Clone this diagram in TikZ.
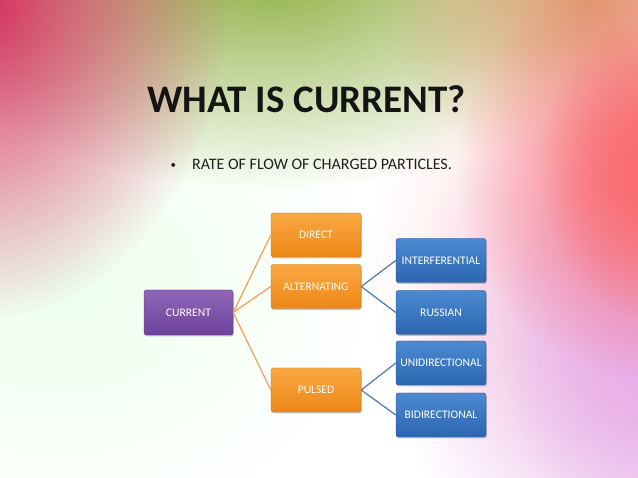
\documentclass[tikz,border=0pt]{standalone}
\usepackage{fontspec}
\setmainfont{Carlito}
\usetikzlibrary{shadows,fadings}

\newlength{\du}
\setlength{\du}{1pt}

\definecolor{purpletop}{rgb}{0.560000, 0.400000, 0.720000}
\definecolor{purplebot}{rgb}{0.430000, 0.260000, 0.600000}
\definecolor{orangetop}{rgb}{0.980000, 0.660000, 0.260000}
\definecolor{orangebot}{rgb}{0.930000, 0.530000, 0.090000}
\definecolor{bluetop}{rgb}{0.300000, 0.540000, 0.820000}
\definecolor{bluebot}{rgb}{0.170000, 0.400000, 0.690000}
\definecolor{orangeline}{rgb}{0.950000, 0.620000, 0.330000}
\definecolor{blueline}{rgb}{0.300000, 0.480000, 0.720000}
\definecolor{crimsonspot}{rgb}{0.830000, 0.160000, 0.350000}
\definecolor{greenspot}{rgb}{0.540000, 0.680000, 0.230000}
\definecolor{tanspot}{rgb}{0.870000, 0.600000, 0.420000}
\definecolor{redspot}{rgb}{0.980000, 0.420000, 0.430000}
\definecolor{lilacspot}{rgb}{0.910000, 0.680000, 0.910000}

\tikzfading[name=softspot, inner color=transparent!0, outer color=transparent!100]

\tikzset{
  boxnode/.style={rounded corners=2.5\du, minimum width=90\du, minimum height=44\du,
    inner sep=0pt, text=white, font=\fontsize{11.6}{13}\selectfont,
    drop shadow={shadow xshift=0.8\du, shadow yshift=-1.5\du, opacity=0.45}},
  purplebox/.style={boxnode, draw=purplebot!80!black, top color=purpletop, bottom color=purplebot},
  orangebox/.style={boxnode, draw=orangebot!85!black, top color=orangetop, bottom color=orangebot},
  bluebox/.style={boxnode, draw=bluebot!80!black, top color=bluetop, bottom color=bluebot},
  spot/.style={path fading=softspot}
}

\begin{document}
\begin{tikzpicture}
\pgftransformxscale{1.000000}
\pgftransformyscale{-1.000000}
\useasboundingbox (0\du,0\du) rectangle (638\du,478\du);
% background
\fill[white] (0\du,0\du) rectangle (638\du,478\du);
\begin{scope}
\clip (0\du,0\du) rectangle (638\du,478\du);
\fill[green!7!white, spot] (60.000000\du,280.000000\du) ellipse ({320\du} and {260\du});
\fill[greenspot, spot] (270.000000\du,-40.000000\du) ellipse ({380\du} and {230\du});
\fill[tanspot, spot] (590.000000\du,-10.000000\du) ellipse ({210\du} and {190\du});
\fill[crimsonspot, spot] (-20.000000\du,-10.000000\du) ellipse ({250\du} and {330\du});
\fill[red!12!white, spot] (540.000000\du,260.000000\du) ellipse ({170\du} and {220\du});
\fill[lilacspot, spot] (660.000000\du,350.000000\du) ellipse ({260\du} and {300\du});
\fill[lilacspot, spot] (650.000000\du,330.000000\du) ellipse ({150\du} and {200\du});
\fill[redspot, spot] (655.000000\du,170.000000\du) ellipse ({200\du} and {210\du});
\fill[redspot, spot] (650.000000\du,170.000000\du) ellipse ({110\du} and {150\du});
\end{scope}
% title
\node[anchor=base west, inner sep=0pt, font=\fontsize{39}{46}\selectfont\bfseries, text=black!92]
  (title) at (147.000000\du,113.000000\du) {WHAT IS CURRENT?};
\node[anchor=base west, inner sep=0pt, font=\fontsize{16}{20}\selectfont, text=black!88]
  (bullet) at (170.500000\du,170.000000\du) {\makebox[21.5\du][l]{\fontsize{11}{13}\selectfont\raisebox{1.5\du}{•}}RATE OF FLOW OF CHARGED PARTICLES.};
% boxes
\node[purplebox, minimum width=89\du, minimum height=45\du] (current) at (188.500000\du,312.500000\du) {CURRENT};
\node[orangebox] (direct) at (316.000000\du,235.000000\du) {DIRECT};
\node[orangebox] (alternating) at (316.000000\du,286.500000\du) {ALTERNATING};
\node[orangebox] (pulsed) at (316.000000\du,390.000000\du) {PULSED};
\node[bluebox] (interferential) at (441.000000\du,260.500000\du) {INTERFERENTIAL};
\node[bluebox] (russian) at (441.000000\du,312.500000\du) {RUSSIAN};
\node[bluebox] (unidirectional) at (441.000000\du,363.000000\du) {UNIDIRECTIONAL};
\node[bluebox] (bidirectional) at (441.000000\du,415.000000\du) {BIDIRECTIONAL};
% connectors
\pgfsetlinewidth{1.200000\du}
\draw[orangeline] (current.east)--(direct.west);
\draw[orangeline] (current.east)--(alternating.west);
\draw[orangeline] (current.east)--(pulsed.west);
\draw[blueline] (alternating.east)--(interferential.west);
\draw[blueline] (alternating.east)--(russian.west);
\draw[blueline] (pulsed.east)--(unidirectional.west);
\draw[blueline] (pulsed.east)--(bidirectional.west);
\end{tikzpicture}
\end{document}
